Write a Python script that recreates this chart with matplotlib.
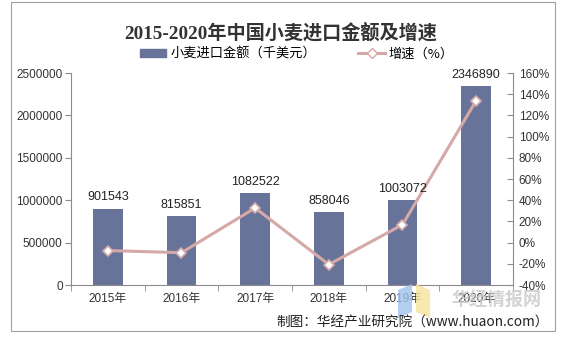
import matplotlib
matplotlib.use("Agg")
import matplotlib.pyplot as plt
from matplotlib.lines import Line2D
from matplotlib.patches import Rectangle, Polygon
import numpy as np

plt.rcParams['font.family'] = ['Liberation Sans', 'Noto Sans CJK SC', 'DejaVu Sans']

years = ['2015年', '2016年', '2017年', '2018年', '2019年', '2020年']
amount = [901543, 815851, 1082522, 858046, 1003072, 2346890]
growth = [-7.5, -9.5, 32.7, -20.7, 16.9, 134.0]
left_ticks = [0, 500000, 1000000, 1500000, 2000000, 2500000]
right_ticks = [-40, -20, 0, 20, 40, 60, 80, 100, 120, 140, 160]

bar_color = '#68739A'
line_color = '#D4A9A8'
axis_color = '#8C8C8C'

fig = plt.figure(figsize=(5.62, 3.48), dpi=100)
fig.patch.set_facecolor('white')
fig.patches.append(Rectangle((11/562, 1-331/348), 544/562, 329/348, transform=fig.transFigure,
                             fill=False, edgecolor='#A0A0A0', linewidth=0.8))

ax = fig.add_axes([71/562, 1-285/348, 442/562, 212/348])
x = np.arange(len(years))
ax.bar(x, amount, width=0.4, color=bar_color, zorder=2)
ax.set_xlim(-0.5, len(years)-0.5)
ax.set_ylim(0, 2500000)
ax.set_yticks(left_ticks)
ax.set_yticklabels([str(v) for v in left_ticks], fontsize=8.5, color='#333333')
ax.set_xticks(x)
ax.set_xticklabels(years, fontsize=8.5, color='#333333')
ax.set_xticks(np.arange(-0.5, len(years), 1), minor=True)
ax.tick_params(axis='x', which='major', length=0, pad=6)
ax.tick_params(axis='x', which='minor', length=4, color=axis_color, direction='out')
ax.tick_params(axis='y', length=4, color=axis_color, direction='out', pad=2)
for s in ['top', 'right']:
    ax.spines[s].set_visible(False)
for s in ['left', 'bottom']:
    ax.spines[s].set_color(axis_color)
    ax.spines[s].set_linewidth(0.8)

ax2 = ax.twinx()
ax2.plot(x, growth, color=line_color, linewidth=2.2, marker='D', markersize=5.5,
         markerfacecolor='white', markeredgecolor=line_color, markeredgewidth=1.2, zorder=3)
ax2.set_ylim(-40, 160)
ax2.set_yticks(right_ticks)
ax2.set_yticklabels([f'{v}%' for v in right_ticks], fontsize=8.5, color='#333333')
ax2.tick_params(axis='y', length=4, color=axis_color, direction='in', pad=4)
for s in ['top', 'left', 'bottom']:
    ax2.spines[s].set_visible(False)
ax2.spines['right'].set_color(axis_color)
ax2.spines['right'].set_linewidth(0.8)

for xi, v in zip(x, amount):
    ax2.text(xi, v + 60000, str(v), ha='center', va='bottom', fontsize=9, color='#222222',
             transform=ax.transData, zorder=10)

fig.text(0.5, 1-33/348, '2015-2020年中国小麦进口金额及增速', ha='center', va='center',
         fontsize=13.8, fontweight='bold', color='#333333',
         family=['Liberation Serif', 'Noto Sans CJK SC'])

handles = [Rectangle((0, 0), 1, 1, color=bar_color),
           Line2D([0], [0], color=line_color, linewidth=2.2, marker='D', markersize=5,
                  markerfacecolor='white', markeredgecolor=line_color)]
fig.legend(handles, ['小麦进口金额（千美元）', '增速（%）'], loc='center',
           bbox_to_anchor=(297/562, 1-54/348), ncol=2, frameon=False,
           handlelength=2.0, handleheight=0.5, columnspacing=3.2, handletextpad=0.3,
           prop={'family': ['Noto Sans CJK SC', 'DejaVu Sans'], 'size': 9.5})

# watermark logo & text
fig.patches.append(Polygon([[398/562, 1-318/348], [412/562, 1-312/348], [412/562, 1-284/348], [398/562, 1-290/348]],
                           closed=True, transform=fig.transFigure, facecolor='#9FC3EE', edgecolor='none', alpha=0.8))
fig.patches.append(Polygon([[416/562, 1-312/348], [430/562, 1-318/348], [430/562, 1-290/348], [416/562, 1-284/348]],
                           closed=True, transform=fig.transFigure, facecolor='#F6E39A', edgecolor='none', alpha=0.8))
fig.text(496/562, 1-300/348, '华经情报网', ha='center', va='center', fontsize=13, fontweight='bold',
         color='#C8C8C8', alpha=0.8, family=['Noto Sans CJK SC'])
fig.text(276/562, 1-322/348, '制图：华经产业研究院（www.huaon.com）', ha='left', va='center',
         fontsize=9.8, color='#222222', family=['Noto Sans CJK SC', 'DejaVu Sans'])

fig.savefig('out.png', dpi=100)
